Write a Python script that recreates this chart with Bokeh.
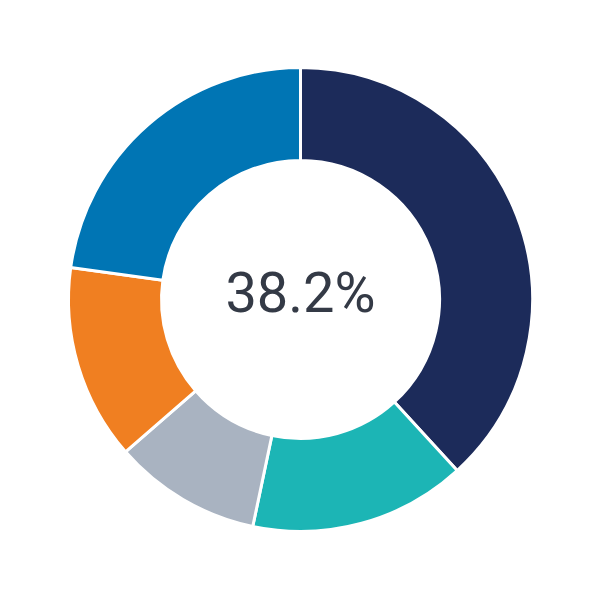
from bokeh.plotting import figure
from bokeh.models import ColumnDataSource, Range1d
from bokeh.core.properties import value
from bokeh.embed import file_html
from bokeh.resources import INLINE
import math

# segment shares in percent, clockwise from 12 o'clock
shares = [38.2, 15.1, 10.3, 13.6, 22.8]
colors = ["#1c2b5a", "#1cb5b5", "#a9b3c1", "#f07f21", "#0075b4"]
center_label = "%.1f%%" % shares[0]

W = H = 584
cx, cy = 300, 285
r_in, r_out = 139, 232

starts = []
ends = []
acc = 0.0
total = sum(shares)
for s in shares:
    starts.append(math.pi / 2 - 2 * math.pi * acc / total)
    acc += s
    ends.append(math.pi / 2 - 2 * math.pi * acc / total)

source = ColumnDataSource(data={
    'start': starts,
    'end': ends,
    'color': colors,
    'share': shares,
})

p = figure(width=W, height=H, output_backend="svg", toolbar_location=None,
           x_range=Range1d(0, W), y_range=Range1d(0, H), min_border=0)
p.axis.visible = False
p.grid.visible = False
p.outline_line_color = None

p.annular_wedge(x=cx, y=cy, inner_radius=r_in, outer_radius=r_out,
                start_angle='start', end_angle='end', direction="clock",
                fill_color='color', line_color="white", line_width=3,
                source=source)

p.text(x=[cx], y=[cy + 7], text=[center_label], text_align="center",
       text_baseline="middle", text_font=value("Roboto"),
       text_font_size="56px", text_color="#343a46")

open("out.html", "w").write(file_html(p, INLINE))
